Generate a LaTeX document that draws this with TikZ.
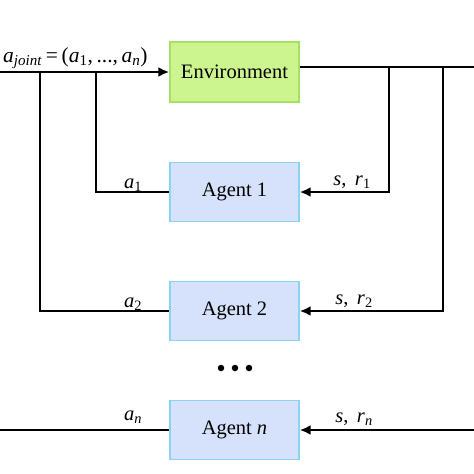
\documentclass[tikz,border=0pt]{standalone}
\usepackage{fontspec}
\setmainfont{Liberation Serif}
\usetikzlibrary{arrows.meta}
\definecolor{envfill}{HTML}{CCF590}
\definecolor{envdraw}{HTML}{A8E060}
\definecolor{agfill}{HTML}{D6E2FB}
\definecolor{agdraw}{HTML}{8AD4F0}
\tikzset{
  envbox/.style={draw=envdraw, fill=envfill, line width=1.4pt, minimum width=129pt, minimum height=60pt, inner sep=0pt},
  agbox/.style={draw=agdraw, fill=agfill, line width=1.4pt, minimum width=129pt, minimum height=59pt, inner sep=0pt},
  wire/.style={line width=2.2pt, black},
  arr/.style={wire, -{Latex[length=11pt,width=10pt]}},
  lbl/.style={inner sep=0pt},
  dotc/.style={circle, fill=black, inner sep=0pt, minimum size=6.5pt}
}
\newcommand{\ita}[1]{\textit{#1}}
\begin{document}
\begin{tikzpicture}[x=1pt,y=-1pt, font=\fontsize{20.5}{24}\selectfont]
\useasboundingbox (0,0) rectangle (474,474);
\node[envbox] (env) at (234.5,72) {Environment};
\node[agbox] (ag1) at (234.5,192) {Agent 1};
\node[agbox] (ag2) at (234.5,311) {Agent 2};
\node[agbox] (agn) at (234.5,430) {Agent \ita{n}};
% coordinates
\coordinate (inL) at (0,72);
\coordinate (j1) at (40,72);
\coordinate (j2) at (96,72);
\coordinate (outR) at (474,67);
\coordinate (k1) at (389,67);
\coordinate (k2) at (443,67);
\coordinate (anL) at (0,430);
\coordinate (snR) at (474,430);
% connectors
\draw[arr] (inL) -- (env.west);
\draw[wire] (env.east |- outR) -- (outR);
\draw[wire] (j2) |- (ag1.west);
\draw[wire] (j1) |- (ag2.west);
\draw[arr] (k1) |- (ag1.east);
\draw[arr] (k2) |- (ag2.east);
\draw[wire] (anL) -- (agn.west);
\draw[arr] (snR) -- (agn.east);
% labels
\node[lbl, anchor=base west] (lj) at (3,62) {\fontsize{21.5}{24}\selectfont\ita{a}\textsubscript{\ita{joint}}\,=\,(\ita{a}\textsubscript{1},\,...,\,\ita{a}\textsubscript{\ita{n}})};
\node[lbl, anchor=base] (l1) at (133,188) {\ita{a}\textsubscript{1}};
\node[lbl, anchor=base] (l2) at (133,307) {\ita{a}\textsubscript{2}};
\node[lbl, anchor=base] (ln) at (133,420) {\ita{a}\textsubscript{\ita{n}}};
\node[lbl, anchor=base] (s1) at (352,185) {\ita{s},\, \ita{r}\textsubscript{1}};
\node[lbl, anchor=base] (s2) at (354,304) {\ita{s},\, \ita{r}\textsubscript{2}};
\node[lbl, anchor=base] (sn) at (354,422) {\ita{s},\, \ita{r}\textsubscript{\ita{n}}};
% dots
\node[dotc] (d1) at (221,368) {};
\node[dotc] (d2) at (235,368) {};
\node[dotc] (d3) at (249,368) {};
\end{tikzpicture}
\end{document}
